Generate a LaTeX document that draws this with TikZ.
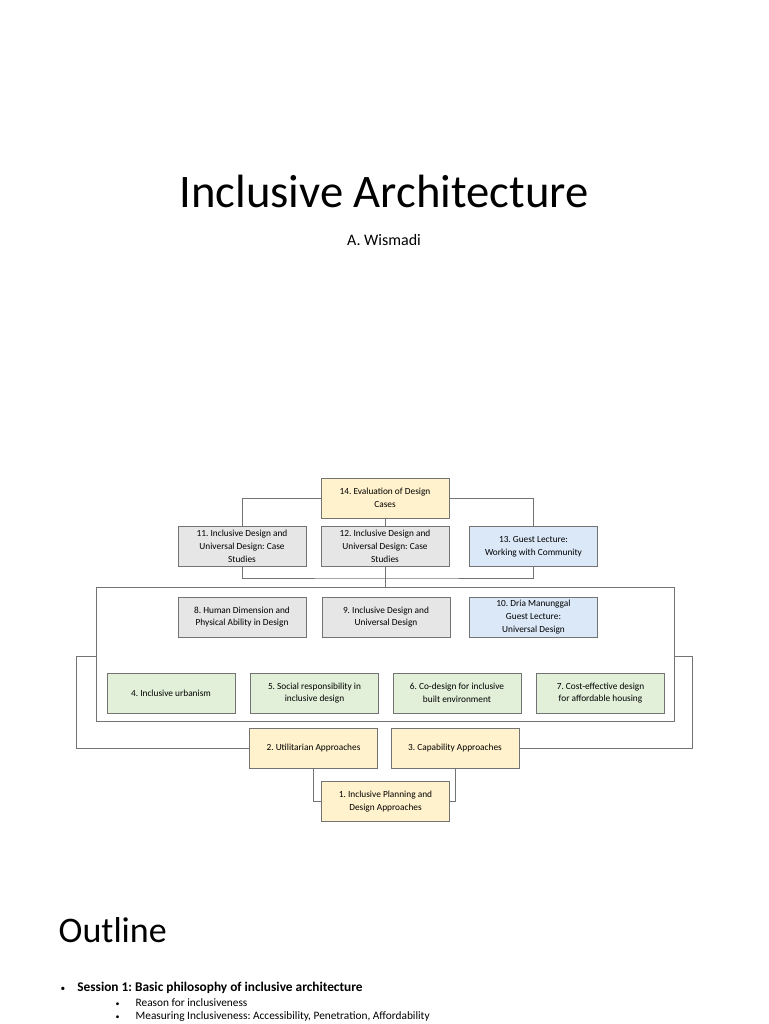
\documentclass[tikz,border=0pt]{standalone}
\usepackage{fontspec}
\setmainfont{Carlito}
\begin{document}
\frenchspacing
\begin{tikzpicture}[x=0.75pt,y=-0.75pt,
  bx/.style={draw=black!55,line width=0.6pt,minimum width=96pt,minimum height=30pt,inner sep=1pt,align=center,font=\fontsize{7}{9.6}\selectfont},
  yel/.style={bx,fill={rgb,255:red,255;green,242;blue,204}},
  gry/.style={bx,fill={rgb,255:red,231;green,230;blue,230}},
  blu/.style={bx,fill={rgb,255:red,218;green,232;blue,248}},
  grn/.style={bx,fill={rgb,255:red,226;green,240;blue,217}},
  ln/.style={draw=black!55,line width=0.6pt}]
\useasboundingbox (0,0) rectangle (768,1024);
\node[font=\fontsize{35}{38}\selectfont] (title) at (384,191) {Inclusive Architecture};
\node[font=\fontsize{12}{14}\selectfont] (auth) at (384,240) {A. Wismadi};
% container
\node[ln,minimum width=433.5pt,minimum height=100.5pt] (cont) at (385,654) {};
\node[yel] (b14) at (385,498) {14. Evaluation of Design\\Cases};
\node[gry] (b11) at (242,546.5) {11. Inclusive Design and\\Universal Design: Case\\Studies};
\node[gry] (b12) at (385,546.5) {12. Inclusive Design and\\Universal Design: Case\\Studies};
\node[blu] (b13) at (533.5,546.5) {13. Guest Lecture:\\Working with Community};
\node[gry] (b8) at (242,617) {8. Human Dimension and\\Physical Ability in Design};
\node[gry] (b9) at (386,617) {9. Inclusive Design and\\Universal Design};
\node[blu] (b10) at (533.5,617) {10. Dria Manunggal\\Guest Lecture:\\Universal Design};
\node[grn] (b4) at (171,693) {4. Inclusive urbanism};
\node[grn] (b5) at (314.5,693) {5. Social responsibility in\\inclusive design};
\node[grn] (b6) at (457,693) {6. Co-design for inclusive\\built environment};
\node[grn] (b7) at (600.5,693) {7. Cost-effective design\\for affordable housing};
\node[yel] (b2) at (313.5,748) {2. Utilitarian Approaches};
\node[yel] (b3) at (455,748) {3. Capability Approaches};
\node[yel] (b1) at (385.5,801.5) {1. Inclusive Planning and\\Design Approaches};
% connectors
\draw[ln] (b14.west) -| (b11.north);
\draw[ln] (b14.east) -| (b13.north);
\draw[ln] (b14.south) -- (b12.north);
\draw[ln] (b11.south) |- (385,578) -| (b13.south);
\draw[ln] (b12.south) -- (cont.north -| b12.south);
\draw[ln] (cont.west |- 0,656) -- (76,656) |- (b2.west);
\draw[ln] (cont.east |- 0,656) -- (692,656) |- (b3.east);
\draw[ln] (b2.south) |- (b1.west);
\draw[ln] (b3.south) |- (b1.east);
% outline
\node[anchor=west,font=\fontsize{27}{30}\selectfont] (outl) at (54,930) {Outline};
\node[anchor=west,font=\bfseries\fontsize{10}{12}\selectfont] (s1) at (56,988) {{\mdseries\fontsize{7}{8}\selectfont•}\hspace{9pt}Session 1: Basic philosophy of inclusive architecture};
\node[anchor=west,font=\fontsize{8.5}{10}\selectfont] (s2) at (111,1003) {{\fontsize{6}{8}\selectfont•}\hspace{12pt}Reason for inclusiveness};
\node[anchor=west,font=\fontsize{8.5}{10}\selectfont] (s3) at (111,1017) {{\fontsize{6}{8}\selectfont•}\hspace{12pt}Measuring Inclusiveness: Accessibility, Penetration, Affordability};
\end{tikzpicture}
\end{document}
